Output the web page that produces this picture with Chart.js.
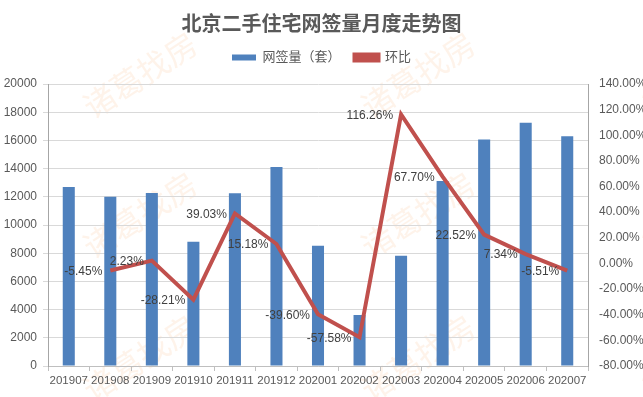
<!DOCTYPE html>
<html>
<head>
<meta charset="utf-8">
<script src="https://cdn.jsdelivr.net/npm/chart.js@4/dist/chart.umd.min.js"></script>
<style>
  html, body { margin: 0; padding: 0; background: #fff; }
  #wrap { width: 643px; height: 397px; }
</style>
</head>
<body>
<div id="wrap"><canvas id="grafico" width="643" height="397"></canvas></div>
<script>
// datos del gráfico
const meses = ['201907', '201908', '201909', '201910', '201911', '201912', '202001',
               '202002', '202003', '202004', '202005', '202006', '202007'];
const wangqian = [12700, 12008, 12276, 8813, 12253, 14113, 8524, 3616, 7820, 13114, 16067, 17246, 16296];
// 环比 (%), el primer mes no tiene valor
const huanbi = [null, -5.45, 2.23, -28.21, 39.03, 15.18, -39.60, -57.58, 116.26, 67.70, 22.52, 7.34, -5.51];

const fuente = "'Liberation Sans', 'Noto Sans CJK SC', sans-serif";
const gris = '#595959';

// marca de agua
const marcaAgua = {
    id: 'marcaAgua',
    beforeDraw(chart) {
        const ctx = chart.ctx;
        ctx.save();
        ctx.font = "32px 'Noto Sans CJK SC'";
        ctx.fillStyle = 'rgba(252, 190, 140, 0.18)';
        ctx.textAlign = 'center';
        ctx.textBaseline = 'middle';
        const xs = [140, 418, 700];
        const ys = [75, 215, 358];
        xs.forEach(x => {
            ys.forEach(y => {
                ctx.save();
                ctx.translate(x, y);
                ctx.rotate(-33 * Math.PI / 180);
                ctx.fillText('诸葛找房', 0, 0);
                ctx.restore();
            });
        });
        ctx.restore();
    }
};

// etiquetas a la izquierda de cada punto de la línea
const etiquetas = {
    id: 'etiquetas',
    afterDatasetsDraw(chart) {
        const ctx = chart.ctx;
        const meta = chart.getDatasetMeta(1);
        ctx.save();
        ctx.font = '12px ' + fuente;
        ctx.fillStyle = '#404040';
        ctx.textAlign = 'right';
        ctx.textBaseline = 'middle';
        meta.data.forEach((p, i) => {
            if (huanbi[i] === null) return;
            ctx.fillText(huanbi[i].toFixed(2) + '%', p.x - 8, p.y + 1);
        });
        ctx.restore();
    }
};

new Chart(document.getElementById('grafico'), {
    data: {
        labels: meses,
        datasets: [{
            type: 'bar',
            label: '网签量（套）',
            data: wangqian,
            backgroundColor: '#4F81BD',
            barPercentage: 0.29,
            categoryPercentage: 1,
            yAxisID: 'y',
            order: 2
        }, {
            type: 'line',
            label: '环比',
            data: huanbi,
            borderColor: '#C0504D',
            backgroundColor: '#C0504D',
            borderWidth: 4,
            pointRadius: 0,
            tension: 0,
            yAxisID: 'y1',
            order: 1
        }]
    },
    options: {
        responsive: false,
        animation: false,
        plugins: {
            title: {
                display: true,
                text: '北京二手住宅网签量月度走势图',
                color: gris,
                font: { family: "'Noto Sans CJK SC'", size: 20, weight: 'bold' },
                padding: { top: 11, bottom: 2 }
            },
            // espacio vacío entre la leyenda y el gráfico
            subtitle: {
                display: true,
                text: '',
                weight: 500,
                font: { size: 10, lineHeight: 1 },
                padding: 0
            },
            legend: {
                display: true,
                labels: {
                    color: gris,
                    font: { family: fuente, size: 13 },
                    boxWidth: 24,
                    boxHeight: 6,
                    padding: 14,
                    sort: (a, b) => a.datasetIndex - b.datasetIndex
                }
            },
            tooltip: { enabled: false }
        },
        scales: {
            x: {
                offset: true,
                grid: { display: true, drawOnChartArea: false, offset: true, tickLength: 5, color: '#BFBFBF' },
                border: { color: '#BFBFBF' },
                ticks: { color: gris, font: { family: fuente, size: 11.5 }, maxRotation: 0, autoSkip: false, padding: 3 },
                afterFit: s => { s.height = 31; }
            },
            y: {
                position: 'left',
                min: 0,
                max: 20000,
                ticks: { stepSize: 2000, color: gris, font: { family: fuente, size: 12 }, padding: 6, callback: v => String(v) },
                grid: { color: '#D9D9D9', tickLength: 5 },
                border: { color: '#A6A6A6' },
                afterFit: s => { s.width = 48; }
            },
            y1: {
                position: 'right',
                min: -80,
                max: 140,
                ticks: {
                    stepSize: 20,
                    color: gris,
                    font: { family: fuente, size: 12 },
                    padding: 11,
                    callback: v => v.toFixed(2) + '%'
                },
                grid: { drawOnChartArea: false, drawTicks: false },
                border: { color: '#A6A6A6' },
                afterFit: s => { s.width = 55; }
            }
        }
    },
    plugins: [marcaAgua, etiquetas]
});
</script>
</body>
</html>
